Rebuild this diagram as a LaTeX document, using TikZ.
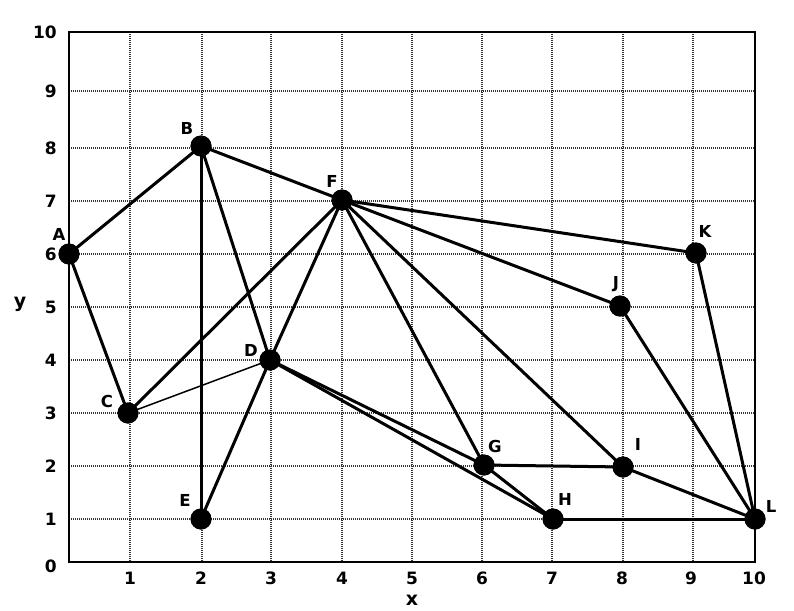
\documentclass[tikz,border=0pt]{standalone}
\usepackage{fontspec}
\setmainfont{DejaVu Sans}
\begin{document}
\begin{tikzpicture}[x=1pt,y=-1pt,
  vtx/.style={circle,fill=black,inner sep=0pt,minimum size=21pt},
  edge/.style={line width=3pt,black},
  thinedge/.style={line width=1.5pt,black},
  gridline/.style={line width=1.1pt,black!80,dash pattern=on 1pt off 1pt},
  tick/.style={font=\fontsize{17}{17}\selectfont\bfseries,inner sep=0pt},
  axlab/.style={font=\fontsize{19}{19}\selectfont\bfseries,inner sep=0pt},
  lab/.style={font=\fontsize{16.5}{16.5}\selectfont\bfseries,inner sep=0pt}]
\useasboundingbox (0,0) rectangle (794,610);
\fill[white] (0,0) rectangle (794,610);
% grid
\foreach \gx in {130,202,271,342,412,482,552,623,693}
  \draw[gridline] (\gx,32) -- (\gx,562);
\foreach \gy in {91,148,201,254,307,360,413,466,519}
  \draw[gridline] (69,\gy) -- (755,\gy);
\draw[line width=2pt] (69,32) rectangle (755,562);
% tick labels
\foreach \t/\yy in {10/32,9/91,8/148,7/201,6/254,5/307,4/360,3/413,2/466,1/519,0/566}
  \node[tick,anchor=east] (yt\t) at (57,\yy) {\t};
\foreach \t/\xx in {1/130,2/201,3/271,4/342,5/412,6/482,7/552,8/622,9/691,10/754}
  \node[tick] (xt\t) at (\xx,578) {\t};
\node[axlab] (xlab) at (412,600) {x};
\node[axlab] (ylab) at (20,304) {y};
% vertices
\node[vtx] (A) at (69,254) {};
\node[vtx] (B) at (201,146) {};
\node[vtx] (C) at (128,413) {};
\node[vtx] (D) at (270,360) {};
\node[vtx] (E) at (201,519) {};
\node[vtx] (F) at (342,200) {};
\node[vtx] (G) at (484,465) {};
\node[vtx] (H) at (553,519) {};
\node[vtx] (I) at (623,467) {};
\node[vtx] (J) at (620,306) {};
\node[vtx] (K) at (696,253) {};
\node[vtx] (L) at (755,519) {};
% labels
\node[lab] (lA) at (59,234) {A};
\node[lab] (lB) at (187,128) {B};
\node[lab] (lC) at (107,401) {C};
\node[lab] (lD) at (251,350) {D};
\node[lab] (lE) at (185,500) {E};
\node[lab] (lF) at (332,181) {F};
\node[lab] (lG) at (495,446) {G};
\node[lab] (lH) at (565,499) {H};
\node[lab] (lI) at (638,444) {I};
\node[lab] (lJ) at (616,284) {J};
\node[lab] (lK) at (705,231) {K};
\node[lab] (lL) at (771,506) {L};
% edges
\draw[edge] (A.center) -- (B.center);
\draw[edge] (A.center) -- (C.center);
\draw[edge] (B.center) -- (F.center);
\draw[edge] (B.center) -- (E.center);
\draw[edge] (B.center) -- (D.center);
\draw[edge] (C.center) -- (F.center);
\draw[thinedge] (C.center) -- (D.center);
\draw[edge] (D.center) -- (F.center);
\draw[edge] (D.center) -- (E.center);
\draw[edge] (D.center) -- (G.center);
\draw[edge] (D.center) -- (H.center);
\draw[edge] (F.center) -- (G.center);
\draw[edge] (F.center) -- (I.center);
\draw[edge] (F.center) -- (J.center);
\draw[edge] (F.center) -- (K.center);
\draw[edge] (G.center) -- (I.center);
\draw[edge] (G.center) -- (H.center);
\draw[edge] (H.center) -- (L.center);
\draw[edge] (I.center) -- (L.center);
\draw[edge] (J.center) -- (L.center);
\draw[edge] (K.center) -- (L.center);
% redraw vertices on top
\foreach \v in {A,B,C,D,E,F,G,H,I,J,K,L}
  \fill (\v) circle (10.5pt);
\end{tikzpicture}
\end{document}
